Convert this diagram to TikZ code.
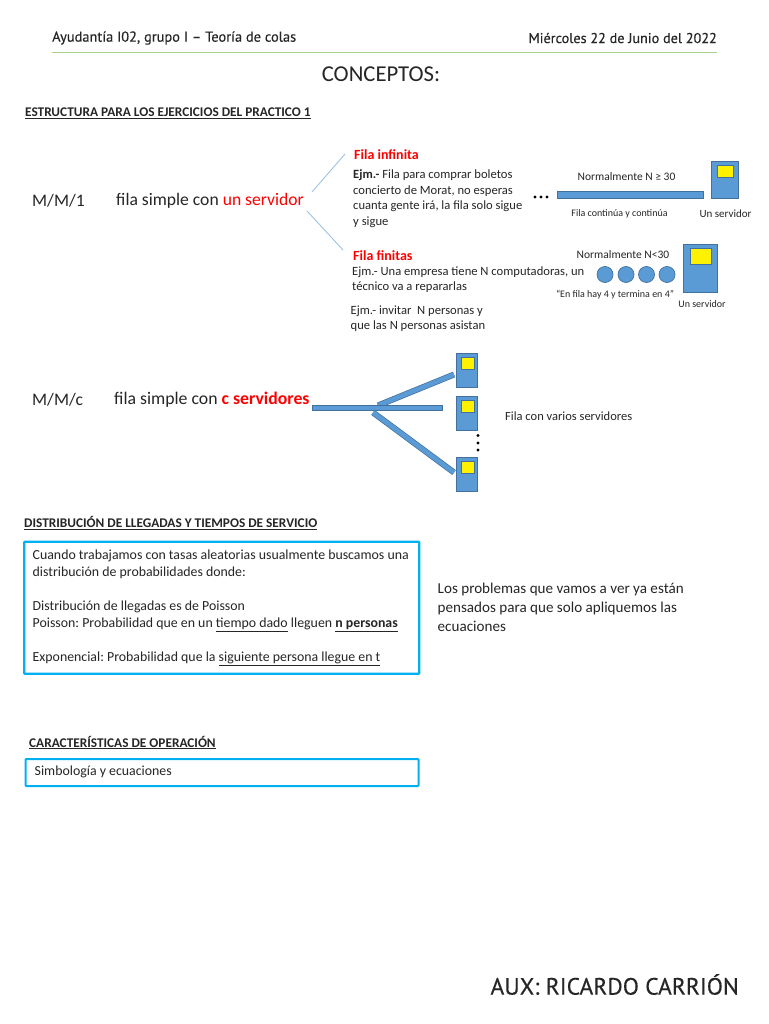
\documentclass[tikz,border=0pt]{standalone}
\usepackage{fontspec}
\setmainfont{Carlito}
\newfontfamily\headf[FakeBold=0.3]{PT Sans}
\definecolor{qblue}{HTML}{5B9BD5}
\definecolor{qedge}{HTML}{41719C}
\definecolor{cyanb}{HTML}{00B0F0}
\definecolor{lineb}{HTML}{9DC3E6}
\definecolor{hgreen}{HTML}{A9D18E}
\definecolor{tk}{HTML}{262626}
\newcommand{\fs}[1]{\fontsize{#1}{#1}\selectfont}
\frenchspacing
\tikzset{
 x=1pt,y=-1pt,
 txt/.style={anchor=west,inner sep=0pt,text=tk,align=left},
 blockb/.style={fill=qblue,draw=qedge,line width=0.8pt},
 tube/.style={draw=qedge,fill=qblue,line width=0.7pt},
 yel/.style={fill=yellow,draw=qedge,line width=0.8pt},
 frameb/.style={draw=cyanb,line width=2.4pt,rounded corners=0.8pt},
 thinb/.style={draw=lineb,line width=0.9pt},
 dotk/.style={circle,fill=black,inner sep=0pt,minimum size=3pt},
 pers/.style={circle,fill=qblue,draw=qedge,line width=0.7pt,inner sep=0pt,minimum size=16pt},
}
\begin{document}
\begin{tikzpicture}
\useasboundingbox (0,0) rectangle (768,1024);
\fill[white] (0,0) rectangle (768,1024);
% header
\node[txt] (h1) at (52,38) {\headf\fs{14.4}Ayudantía I02, grupo I – Teoría de colas};
\node[txt,anchor=east] (h2) at (717,38) {\headf\fs{14.2}Miércoles 22 de Junio del 2022};
\coordinate (ga) at (52,52); \coordinate (gb) at (717,52);
\draw[hgreen,line width=0.9pt] (ga)--(gb);
\node[txt,anchor=center] (tit) at (381,74.5) {\fs{22.7}CONCEPTOS:};
\node[txt] (s1) at (25,113.5) {\fs{13.3}\textbf{\underline{ESTRUCTURA PARA LOS EJERCICIOS DEL PRACTICO 1}}};
% MM1
\node[txt] (mm1) at (32,200.5) {\fs{17.6}M/M/1};
\node[txt] (fs1) at (116,200.5) {\fs{17.6}fila simple con \textcolor{red}{un servidor}};
\coordinate (l1a) at (312,192); \coordinate (l1b) at (345,154);
\coordinate (l2a) at (307,211); \coordinate (l2b) at (343,250);
\draw[thinb] (l1a)--(l1b); \draw[thinb] (l2a)--(l2b);
\node[txt] (fi) at (354,154.5) {\fs{14}\textcolor{red}{\textbf{Fila infinita}}};
\node[txt] (fi1) at (353,175) {\fs{12.6}\textbf{Ejm.-} Fila para comprar boletos};
\node[txt] (fi2) at (353,191) {\fs{12.6}concierto de Morat, no esperas};
\node[txt] (fi3) at (353,206.5) {\fs{12.6}cuanta gente irá, la fila solo sigue};
\node[txt] (fi4) at (353,222.5) {\fs{12.6}y sigue};
\node[dotk,minimum size=3.4pt] (d1) at (535,197) {};
\node[dotk,minimum size=3.4pt] (d2) at (541,197) {};
\node[dotk,minimum size=3.4pt] (d3) at (547,197) {};
\node[tube,minimum width=146pt,minimum height=7pt,inner sep=0pt,anchor=west] (bar1) at (557,194.5) {};
\node[txt,anchor=center] (n1) at (626.5,176.5) {\fs{11.5}Normalmente N ≥ 30};
\node[txt,anchor=center] (c1) at (619.5,213.5) {\fs{10}Fila continúa y continúa};
\node[blockb,minimum width=27pt,minimum height=37pt,inner sep=0pt,anchor=north west] (sv1) at (711,161.5) {};
\node[yel,minimum width=16pt,minimum height=12pt,inner sep=0pt,anchor=north west] (sy1) at (717,165.5) {};
\node[txt,anchor=center] (u1) at (725.5,213.5) {\fs{11}Un servidor};
% finitas
\node[txt] (ff) at (353,255.5) {\fs{14}\textcolor{red}{\textbf{Fila finitas}}};
\node[txt] (ff1) at (352,272) {\fs{12.6}Ejm.- Una empresa tiene N computadoras, un};
\node[txt] (ff2) at (352,287.5) {\fs{12.6}técnico va a repararlas};
\node[txt] (ff3) at (350.5,311) {\fs{12.6}Ejm.- invitar\ \ N personas y};
\node[txt] (ff4) at (350.5,326.5) {\fs{12.6}que las N personas asistan};
\node[txt,anchor=center] (n2) at (623,254.5) {\fs{11.5}Normalmente N<30};
\node[pers] (p1) at (605,274.5) {};
\node[pers] (p2) at (626,274.5) {};
\node[pers] (p3) at (646.5,274.5) {};
\node[pers] (p4) at (667,274.5) {};
\node[txt,anchor=center] (c2) at (615,295) {\fs{10}“En fila hay 4 y termina en 4”};
\node[blockb,minimum width=34pt,minimum height=48pt,inner sep=0pt,anchor=north west] (sv2) at (683,243.5) {};
\node[yel,minimum width=21pt,minimum height=16pt,inner sep=0pt,anchor=north west] (sy2) at (690,248) {};
\node[txt,anchor=center] (u2) at (702,304) {\fs{10}Un servidor};
% MMc
\node[txt] (mmc) at (32,399.5) {\fs{17.6}M/M/c};
\node[txt] (fsc) at (114,399.5) {\fs{17.75}fila simple con \textcolor{red}{\textbf{c servidores}}};
\coordinate (t0a) at (312,408); \coordinate (t0b) at (443,408);
\coordinate (t1a) at (378,405.5); \coordinate (t1b) at (454,374.5);
\coordinate (t2a) at (373,412.5); \coordinate (t2b) at (454,472.5);
\draw[qedge,line width=6pt] (t1a)--(t1b);
\draw[qblue,line width=4.6pt] (t1a)--(t1b);
\draw[qedge,line width=6pt] (t2a)--(t2b);
\draw[qblue,line width=4.6pt] (t2a)--(t2b);
\draw[qedge,line width=5.4pt] (t0a)--(t0b);
\draw[qblue,line width=4pt,shorten <=0.7pt,shorten >=0.7pt] (t0a)--(t0b);
\foreach \n/\y in {a/353,b/396,c/457}{
 \node[blockb,minimum width=21pt,minimum height=34pt,inner sep=0pt,anchor=north west] (srv\n) at (456,\y) {};
 \node[yel,minimum width=13pt,minimum height=12pt,inner sep=0pt,anchor=north west] (yel\n) at (460.5,\y+4) {};
}
\node[dotk,minimum size=3.2pt] (e1) at (478,435.5) {};
\node[dotk,minimum size=3.2pt] (e2) at (478,443) {};
\node[dotk,minimum size=3.2pt] (e3) at (478,450) {};
\node[txt] (fv) at (505,416.5) {\fs{12.5}Fila con varios servidores};
% dist
\node[txt] (s2) at (24,523) {\fs{13.3}\textbf{\underline{DISTRIBUCIÓN DE LLEGADAS Y TIEMPOS DE SERVICIO}}};
\node[frameb,minimum width=395pt,minimum height=132pt,inner sep=0pt,anchor=north west] (box1) at (23,540.5) {};
\node[txt] (b1) at (32.5,555.5) {\fs{13.85}Cuando trabajamos con tasas aleatorias usualmente buscamos una};
\node[txt] (b2) at (32.5,572.5) {\fs{13.85}distribución de probabilidades donde:};
\node[txt] (b3) at (32.5,607) {\fs{13.85}Distribución de llegadas es de Poisson};
\node[txt] (b4) at (32.5,624.5) {\fs{13.85}Poisson: Probabilidad que en un \underline{tiempo dado} lleguen \underline{\textbf{n personas}}};
\node[txt] (b5) at (32.5,659) {\fs{13.85}Exponencial: Probabilidad que la \underline{siguiente persona llegue en t}};
\node[txt] (r1) at (437.5,589) {\fs{15.1}Los problemas que vamos a ver ya están};
\node[txt] (r2) at (437.5,608) {\fs{15.1}pensados para que solo apliquemos las};
\node[txt] (r3) at (437.5,626.5) {\fs{15.1}ecuaciones};
% caract
\node[txt] (s3) at (29,742.5) {\fs{13.3}\textbf{\underline{CARACTERÍSTICAS DE OPERACIÓN}}};
\node[frameb,line width=2pt,minimum width=393pt,minimum height=27pt,inner sep=0pt,anchor=north west] (box2) at (24.5,758) {};
\node[txt] (b6) at (34.5,772) {\fs{13.85}Simbología y ecuaciones};
\node[txt,anchor=east] (aux) at (739,984.5) {\headf\fs{23.6}AUX: RICARDO CARRIÓN};
\end{tikzpicture}
\end{document}
